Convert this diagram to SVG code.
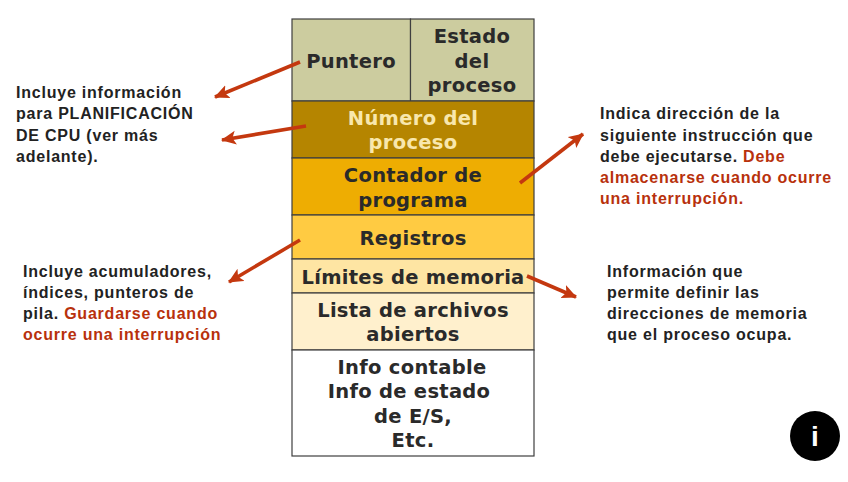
<svg xmlns="http://www.w3.org/2000/svg" width="848" height="482" viewBox="0 0 848 482">
<style>
.c{stroke:#3f3f3f;stroke-width:1.2}
.t{font-family:"DejaVu Sans",sans-serif;font-weight:700;font-size:19.5px;letter-spacing:.3px;fill:#2a2a2a;text-anchor:middle}
.n{font-family:"Liberation Sans",Arial,sans-serif;font-weight:700;font-size:16px;letter-spacing:.78px;fill:#222}
.r{fill:#b8310c}
.a{stroke:#c4380f;stroke-width:3.6;fill:none;marker-end:url(#h)}
</style>
<defs><marker id="h" markerUnits="userSpaceOnUse" markerWidth="18" markerHeight="16" refX="14" refY="7" orient="auto"><path d="M0 0L15 7L0 14L3.500 7Z" fill="#c4380f"/></marker></defs>
<rect width="848" height="482" fill="#fff"/>
<g id="puntero"><rect class="c" x="292" y="19" width="118.500" height="82" fill="#cccc9f"/><text class="t" x="351" y="68">Puntero</text></g>
<g id="estado"><rect class="c" x="410.500" y="19" width="123.500" height="82" fill="#cccc9f"/><text class="t" x="472" y="43">Estado</text><text class="t" x="472" y="68">del</text><text class="t" x="472" y="92">proceso</text></g>
<g id="numero"><rect class="c" x="292" y="101" width="242" height="57" fill="#b58500"/><text class="t" x="413" y="125" style="fill:#f8e7ad">Número del</text><text class="t" x="413" y="149" style="fill:#f8e7ad">proceso</text></g>
<g id="contador"><rect class="c" x="292" y="158" width="242" height="57" fill="#eead02"/><text class="t" x="413" y="182">Contador de</text><text class="t" x="413" y="207">programa</text></g>
<g id="registros"><rect class="c" x="292" y="215" width="242" height="44" fill="#ffcb42"/><text class="t" x="413" y="245">Registros</text></g>
<g id="limites"><rect class="c" x="292" y="259" width="242" height="34" fill="#fee5a3"/><text class="t" x="413" y="284">Límites de memoria</text></g>
<g id="lista"><rect class="c" x="292" y="293" width="242" height="57" fill="#fff0cd"/><text class="t" x="413" y="317">Lista de archivos</text><text class="t" x="413" y="341">abiertos</text></g>
<g id="info"><rect class="c" x="292" y="350" width="242" height="106" fill="#fff"/><text class="t" x="412" y="374">Info contable</text><text class="t" x="409" y="398">Info de estado</text><text class="t" x="413" y="423">de E/S,</text><text class="t" x="413" y="447">Etc.</text></g>
<g id="connectors">
<line class="a" x1="300" y1="62" x2="215" y2="97"/>
<line class="a" x1="306" y1="126" x2="222" y2="140"/>
<line class="a" x1="520" y1="183" x2="583" y2="134"/>
<line class="a" x1="300" y1="240" x2="229" y2="282"/>
<line class="a" x1="527" y1="276" x2="576" y2="297"/>
</g>
<g id="nota-planificacion" class="n"><text x="16" y="98">Incluye información</text><text x="16" y="119">para PLANIFICACIÓN</text><text x="16" y="141">DE CPU (ver más</text><text x="16" y="162">adelante).</text></g>
<g id="nota-contador" class="n"><text x="600" y="119">Indica dirección de la</text><text x="600" y="141">siguiente instrucción que</text><text x="600" y="162">debe ejecutarse. <tspan class="r">Debe</tspan></text><text x="600" y="183" class="r">almacenarse cuando ocurre</text><text x="600" y="204" class="r">una interrupción.</text></g>
<g id="nota-registros" class="n"><text x="23" y="277">Incluye acumuladores,</text><text x="23" y="298">índices, punteros de</text><text x="23" y="319">pila. <tspan class="r">Guardarse cuando</tspan></text><text x="23" y="340" class="r">ocurre una interrupción</text></g>
<g id="nota-memoria" class="n"><text x="607" y="277">Información que</text><text x="607" y="298">permite definir las</text><text x="607" y="319">direcciones de memoria</text><text x="607" y="340">que el proceso ocupa.</text></g>
<g id="info-boton"><circle cx="815" cy="436" r="25" fill="#000"/><text x="815" y="446" style="font-family:'Liberation Sans',sans-serif;font-weight:700;font-size:28px;fill:#fff;text-anchor:middle">i</text></g>
</svg>
